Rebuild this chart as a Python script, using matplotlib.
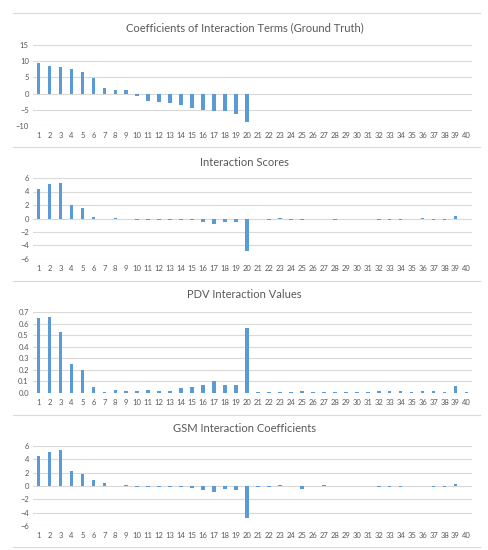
import numpy as np
import matplotlib.pyplot as plt
from matplotlib.lines import Line2D
from matplotlib.ticker import FormatStrFormatter

plt.rcParams['font.family'] = ['Lato', 'DejaVu Sans']

terms = list(range(1, 41))

# ground truth coefficients (only first 20 terms are non-zero)
ground_truth = [9.3, 8.4, 8.1, 7.6, 6.6, 4.7, 1.75, 1.0, 1.0, -0.8,
                -2.3, -2.6, -2.8, -3.5, -4.3, -5.2, -5.5, -5.5, -6.2, -8.9,
                0, 0, 0, 0, 0, 0, 0, 0, 0, 0,
                0, 0, 0, 0, 0, 0, 0, 0, 0, 0]

interaction_scores = [4.4, 5.1, 5.25, 1.93, 1.53, 0.25, 0.0, 0.12, 0.0, -0.15,
                      -0.15, -0.15, -0.15, -0.22, -0.22, -0.5, -0.75, -0.55, -0.5, -4.75,
                      0.0, -0.15, 0.12, -0.15, -0.15, 0.0, 0.0, -0.15, 0.0, 0.0,
                      0.0, -0.15, -0.15, -0.15, 0.0, 0.12, -0.15, -0.15, 0.35, 0.0]

pdv_values = [0.648, 0.654, 0.526, 0.25, 0.198, 0.055, 0.01, 0.025, 0.015, 0.015,
              0.025, 0.02, 0.02, 0.04, 0.048, 0.068, 0.1, 0.068, 0.068, 0.558,
              0.008, 0.008, 0.012, 0.008, 0.02, 0.008, 0.008, 0.008, 0.008, 0.008,
              0.008, 0.02, 0.015, 0.02, 0.01, 0.02, 0.015, 0.008, 0.062, 0.01]

gsm_coefs = [4.55, 5.05, 5.4, 2.2, 1.8, 0.85, 0.5, 0.0, 0.12, -0.15,
             -0.15, -0.2, -0.2, -0.15, -0.35, -0.6, -0.85, -0.5, -0.6, -4.85,
             -0.15, -0.15, 0.2, 0.0, -0.45, 0.0, 0.12, 0.0, 0.0, 0.0,
             0.0, -0.15, -0.15, -0.15, 0.0, 0.0, -0.15, -0.15, 0.35, 0.0]

titles = ['Coefficients of Interaction Terms (Ground Truth)',
          'Interaction Scores',
          'PDV Interaction Values',
          'GSM Interaction Coefficients']
series = [ground_truth, interaction_scores, pdv_values, gsm_coefs]
yticks = [np.arange(-10, 16, 5), np.arange(-6, 7, 2),
          np.arange(0, 0.71, 0.1), np.arange(-6, 7, 2)]

W, H = 489, 550
fig = plt.figure(figsize=(W / 100, H / 100), dpi=100)

# pixel positions of plot areas (top, bottom) and titles
areas = [(45, 126), (178, 259), (312, 393), (446, 526)]
title_y = [28, 162, 295, 429]
borders = [13, 147, 281, 415, 547]

blue = '#5B9BD5'
grey = '#595959'
grid = '#D9D9D9'

for i in range(4):
    top, bot = areas[i]
    ax = fig.add_axes([33 / W, 1 - bot / H, 439 / W, (bot - top) / H])
    ax.bar(terms, series[i], width=0.33, color=blue, zorder=3)
    ax.set_xlim(0.5, 40.5)
    ax.set_ylim(yticks[i][0], yticks[i][-1])
    ax.set_yticks(yticks[i])
    if i == 2:
        ax.yaxis.set_major_formatter(FormatStrFormatter('%.1f'))
    ax.set_xticks(terms)
    ax.set_xticklabels([str(t) for t in terms])
    ax.tick_params(axis='both', length=0, labelsize=5.5, colors=grey, pad=3)
    ax.tick_params(axis='x', pad=4)
    ax.grid(axis='y', color=grid, linewidth=0.8, zorder=0)
    for s in ax.spines.values():
        s.set_visible(False)
    fig.text(0.5, 1 - title_y[i] / H, titles[i], ha='center', va='center',
             fontsize=8, color=grey)

for y in borders:
    fig.add_artist(Line2D([13 / W, 480 / W], [1 - y / H, 1 - y / H],
                          color=grid, linewidth=0.8))

fig.savefig('out.png', dpi=100)
